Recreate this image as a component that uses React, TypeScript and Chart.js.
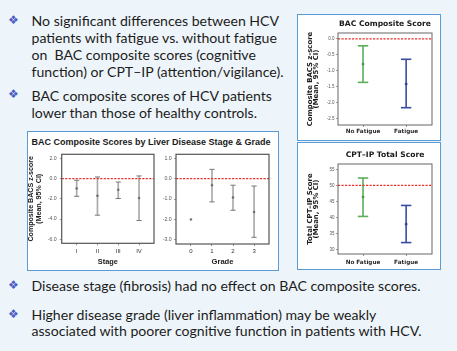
import React, { useEffect, useRef } from "react";
import { Chart, registerables } from "chart.js";

Chart.register(...registerables);

// ---------- DATA ----------
const fatigueGroups = ["No Fatigue", "Fatigue"];
const fatigueX = [1, 2];

const bacMean = [-0.79, -1.41];
const bacUpper = [-0.22, -0.64];
const bacLower = [-1.36, -2.15];
const bacTicks = [0, -0.5, -1, -1.5, -2, -2.5];
const bacRef = 0;

const cptMean = [46.4, 38.0];
const cptUpper = [52.3, 43.8];
const cptLower = [40.4, 32.3];
const cptTicks = [55, 50, 45, 40, 35, 30];
const cptRef = 50;

const stageLabels = ["I", "II", "III", "IV"];
const stageX = [1, 2, 3, 4];
const stageMean = [-0.98, -1.7, -1.11, -1.92];
const stageUpper = [-0.17, 0.16, -0.34, 0.26];
const stageLower = [-1.75, -3.62, -1.97, -4.15];
const stageTicks = [2, 0, -2, -4, -6];

const gradeLabels = ["0", "1", "2", "3"];
const gradeX = [0, 1, 2, 3];
const gradeMean = [-2.0, -0.32, -0.92, -1.64];
const gradeUpper: (number | null)[] = [null, 0.46, -0.32, -0.36];
const gradeLower: (number | null)[] = [null, -1.14, -1.55, -2.88];
const gradeTicks = [1, 0, -1, -2, -3];

const bullet1 = [
  "No significant differences between HCV",
  "patients with fatigue vs. without fatigue",
  "on  BAC composite scores (cognitive",
  "function) or CPT\u2013IP (attention/vigilance).",
];
const bullet2 = ["BAC composite scores of HCV patients", "lower than those of healthy controls."];
const bullet3 = ["Disease stage (fibrosis) had no effect on BAC composite scores."];
const bullet4 = [
  "Higher disease grade (liver inflammation) may be weakly",
  "associated with poorer cognitive function in patients with HCV.",
];

// ---------- STYLE ----------
const CAL = "Lato, 'Open Sans', sans-serif";
const DJV = "'DejaVu Sans', sans-serif";
const ARIAL = "'Liberation Sans', Arial, sans-serif";
const BOX_BLUE = "#5B9BD5";

const framePlugin = {
  id: "frame",
  afterDatasetsDraw(chart: any, _a: any, opts: any) {
    const { ctx, chartArea: a } = chart;
    ctx.save();
    ctx.strokeStyle = opts.color || "#555";
    ctx.lineWidth = opts.width || 1;
    ctx.strokeRect(a.left, a.top, a.right - a.left, a.bottom - a.top);
    ctx.restore();
  },
};

function buildConfig(c: any): any {
  const datasets: any[] = [];
  datasets.push({
    label: "ref",
    data: [
      { x: c.xMin, y: c.ref },
      { x: c.xMax, y: c.ref },
    ],
    showLine: true,
    borderColor: "#E8302A",
    borderWidth: 1.25,
    borderDash: [2.2, 1.3],
    pointRadius: 0,
  });
  datasets.push({
    label: "mean",
    data: c.xs.map((x: number, i: number) => ({ x, y: c.mean[i] })),
    showLine: false,
    pointStyle: c.meanStyle,
    pointRadius: c.meanRadius,
    pointBackgroundColor: c.meanColors,
    pointBorderColor: c.meanColors,
    pointBorderWidth: 0.5,
  });
  c.xs.forEach((x: number, i: number) => {
    if (c.upper[i] == null || c.lower[i] == null) return;
    datasets.push({
      label: "ci" + i,
      data: [
        { x, y: c.lower[i] },
        { x, y: c.upper[i] },
      ],
      showLine: true,
      borderColor: c.barColors[i],
      borderWidth: c.barWidth,
      pointStyle: "line",
      pointRadius: c.capRadius,
      pointBorderColor: c.capColors[i],
      pointBackgroundColor: c.capColors[i],
      pointBorderWidth: c.capWidth,
    });
  });

  return {
    type: "scatter",
    data: { datasets },
    plugins: [framePlugin],
    options: {
      responsive: false,
      animation: false,
      events: [],
      layout: { padding: c.padding },
      plugins: {
        legend: { display: false },
        tooltip: { enabled: false },
        title: c.title
          ? {
              display: true,
              text: c.title.text,
              fullSize: false,
              color: "#1a1a1a",
              font: c.title.font,
              padding: { top: c.title.padTop, bottom: c.title.padBottom },
            }
          : { display: false },
        frame: { color: c.frameColor, width: c.frameWidth },
      },
      scales: {
        x: {
          type: "linear",
          min: c.xMin,
          max: c.xMax,
          afterBuildTicks: (s: any) => {
            s.ticks = c.xs.map((v: number) => ({ value: v }));
          },
          afterFit: (s: any) => {
            s.height = c.xHeight;
          },
          ticks: {
            callback: (v: any) => {
              const i = c.xs.indexOf(Number(v));
              return i >= 0 ? c.labels[i] : "";
            },
            font: c.xTickFont,
            color: c.xTickColor,
            padding: c.xTickPad,
            maxRotation: 0,
            autoSkip: false,
          },
          grid: {
            display: true,
            drawOnChartArea: false,
            drawTicks: true,
            tickLength: 2,
            color: "#777",
            lineWidth: 0.8,
          },
          border: { display: false },
          title: c.xTitle
            ? {
                display: true,
                text: c.xTitle.text,
                color: "#1a1a1a",
                font: c.xTitle.font,
                padding: { top: 0, bottom: c.xTitle.padBottom },
              }
            : { display: false },
        },
        y: {
          type: "linear",
          min: c.yMin,
          max: c.yMax,
          afterBuildTicks: (s: any) => {
            s.ticks = c.yTicks.map((v: number) => ({ value: v }));
          },
          afterFit: (s: any) => {
            s.width = c.yWidth;
          },
          ticks: {
            callback: (v: any) => Number(v).toFixed(c.yDecimals),
            font: c.yTickFont,
            color: "#555",
            padding: c.yTickPad,
            autoSkip: false,
          },
          grid: {
            display: true,
            drawOnChartArea: false,
            drawTicks: true,
            tickLength: 2,
            color: "#888",
            lineWidth: 0.8,
          },
          border: { display: false },
          title: c.yTitle
            ? {
                display: true,
                text: c.yTitle.text,
                color: "#1a1a1a",
                font: c.yTitle.font,
                padding: { top: c.yTitle.padTop, bottom: 0 },
              }
            : { display: false },
        },
      },
    },
  };
}

function ChartCanvas({ cfg, left, top, width, height }: any) {
  const ref = useRef<HTMLCanvasElement>(null);
  useEffect(() => {
    const chart = new Chart(ref.current as HTMLCanvasElement, buildConfig(cfg));
    return () => chart.destroy();
  }, []);
  return (
    <canvas
      ref={ref}
      width={width}
      height={height}
      style={{ position: "absolute", left, top, width, height }}
    />
  );
}

const green = "#5DAE5B";
const blue = "#3B4C9E";
const gray = "rgba(150,150,150,0.8)";

const fatigueCommon = {
  labels: fatigueGroups,
  xs: fatigueX,
  xMin: 0.42,
  xMax: 2.6,
  barColors: [green, blue],
  capColors: [green, blue],
  meanColors: ["#4A9A48", "#33449A"],
  meanStyle: "rect",
  meanRadius: 1.4,
  barWidth: 1.6,
  capRadius: 5.2,
  capWidth: 1.6,
  frameColor: "#666",
  frameWidth: 1,
  yWidth: 35,
  xHeight: 15,
  yTickFont: { family: ARIAL, size: 4.5 },
  yTickPad: 1.5,
  xTickFont: { family: DJV, size: 5.7, weight: "bold", lineHeight: 1.2 },
  xTickColor: "#2a2a2a",
};

const titleFont = { family: DJV, size: 7.6, weight: "bold", lineHeight: 1 };
const yTitleFont = { family: DJV, size: 6.9, weight: "bold", lineHeight: 0.9 };

const bacCfg = {
  ...fatigueCommon,
  mean: bacMean,
  upper: bacUpper,
  lower: bacLower,
  ref: bacRef,
  yMin: -2.69,
  yMax: 0.18,
  yTicks: bacTicks,
  yDecimals: 1,
  padding: { left: 0, right: 8, top: 0, bottom: 0 },
  xTickPad: 1.4,
  title: { text: "BAC Composite Score", font: titleFont, padTop: 5.2, padBottom: 5.2 },
  yTitle: { text: ["Composite BACS z-score", "(Mean, 95% CI)"], font: yTitleFont, padTop: 4.2 },
};

const cptCfg = {
  ...fatigueCommon,
  mean: cptMean,
  upper: cptUpper,
  lower: cptLower,
  ref: cptRef,
  yMin: 28.76,
  yMax: 56.64,
  yTicks: cptTicks,
  yDecimals: 0,
  padding: { left: 0, right: 8, top: 0, bottom: 0 },
  xTickPad: 3.0,
  title: { text: "CPT\u2013IP Total Score", font: titleFont, padTop: 8.2, padBottom: 5.2 },
  yTitle: { text: ["Total CPT\u2013IP Score", "(Mean, 95% CI)"], font: yTitleFont, padTop: 3.9 },
};

const liverCommon = {
  barColors: [gray, gray, gray, gray],
  capColors: ["#777", "#777", "#777", "#777"],
  meanColors: ["#666", "#666", "#666", "#666"],
  meanStyle: "circle",
  meanRadius: 1,
  barWidth: 1.7,
  capRadius: 2.6,
  capWidth: 1,
  frameColor: "#555",
  frameWidth: 1.2,
  ref: 0,
  yDecimals: 1,
  yTickFont: { family: ARIAL, size: 5.2 },
  xTickFont: { family: ARIAL, size: 6, lineHeight: 1.2 },
  xTickColor: "#333",
};

const stageCfg = {
  ...liverCommon,
  labels: stageLabels,
  xs: stageX,
  mean: stageMean,
  upper: stageUpper,
  lower: stageLower,
  xMin: 0.28,
  xMax: 4.72,
  yMin: -6.4,
  yMax: 2.4,
  yTicks: stageTicks,
  padding: { left: 0, right: 6, top: 22.3, bottom: 0 },
  yWidth: 35.7,
  xHeight: 26.7,
  yTickPad: 3,
  xTickPad: 2.8,
  xTitle: { text: "Stage", font: { family: ARIAL, size: 7.4, weight: "bold", lineHeight: 1 }, padBottom: 4.5 },
  yTitle: {
    text: ["Composite BACS z-score", "(Mean, 95% CI)"],
    font: { family: ARIAL, size: 7.1, weight: "bold", lineHeight: 1.08 },
    padTop: 1.5,
  },
};

const gradeCfg = {
  ...liverCommon,
  labels: gradeLabels,
  xs: gradeX,
  mean: gradeMean,
  upper: gradeUpper,
  lower: gradeLower,
  xMin: -0.71,
  xMax: 3.71,
  yMin: -3.21,
  yMax: 1.2,
  yTicks: gradeTicks,
  padding: { left: 0, right: 9, top: 22.3, bottom: 0 },
  yWidth: 16,
  xHeight: 26,
  yTickPad: 2.3,
  xTickPad: 2.1,
  xTitle: { text: "Grade", font: { family: ARIAL, size: 7.6, weight: "bold", lineHeight: 1 }, padBottom: 4.5 },
};

const textBase: React.CSSProperties = {
  position: "absolute",
  fontFamily: CAL,
  fontSize: 14.1,
  color: "#1c1c1c",
  whiteSpace: "pre",
  lineHeight: "17px",
  left: 31.5,
};

function Bullet({ top, lines, lh = 17 }: { top: number; lines: string[]; lh?: number }) {
  return (
    <>
      <div
        style={{
          position: "absolute",
          left: 8,
          top: top + lh / 2 - 8,
          fontFamily: DJV,
          fontSize: 12,
          lineHeight: "14px",
          color: "#4A5CC6",
        }}
      >
        {"\u2756"}
      </div>
      <div style={{ ...textBase, top, lineHeight: lh + "px" }}>
        {lines.map((l, i) => (
          <div key={i}>{l}</div>
        ))}
      </div>
    </>
  );
}

const boxStyle = (left: number, top: number, width: number, height: number): React.CSSProperties => ({
  position: "absolute",
  left,
  top,
  width,
  height,
  boxSizing: "border-box",
  border: `1.5px solid ${BOX_BLUE}`,
  background: "#ffffff",
});

export default function App() {
  return (
    <div
      style={{
        position: "fixed",
        left: 0,
        top: 0,
        width: 457,
        height: 351,
        background: "#EEF5FA",
        overflow: "hidden",
      }}
    >
      <Bullet top={12.2} lines={bullet1} />
      <Bullet top={86.5} lines={bullet2} />
      <Bullet top={277.2} lines={bullet3} />
      <Bullet top={307} lines={bullet4} lh={16} />

      <div style={boxStyle(297, 14, 144, 127)} />
      <div style={boxStyle(297, 142, 144, 128)} />
      <div style={boxStyle(27, 131, 252, 140)} />

      <div
        style={{
          position: "absolute",
          left: 28,
          top: 136.5,
          width: 246,
          textAlign: "center",
          fontFamily: ARIAL,
          fontWeight: "bold",
          fontSize: 9.0,
          lineHeight: "11px",
          color: "#1a1a1a",
          whiteSpace: "nowrap",
        }}
      >
        BAC Composite Scores by Liver Disease Stage &amp; Grade
      </div>

      <ChartCanvas cfg={bacCfg} left={303} top={15} width={137} height={125} />
      <ChartCanvas cfg={cptCfg} left={303} top={143} width={137} height={126} />
      <ChartCanvas cfg={stageCfg} left={26} top={132} width={134} height={138} />
      <ChartCanvas cfg={gradeCfg} left={160} top={132} width={118} height={138} />
    </div>
  );
}
